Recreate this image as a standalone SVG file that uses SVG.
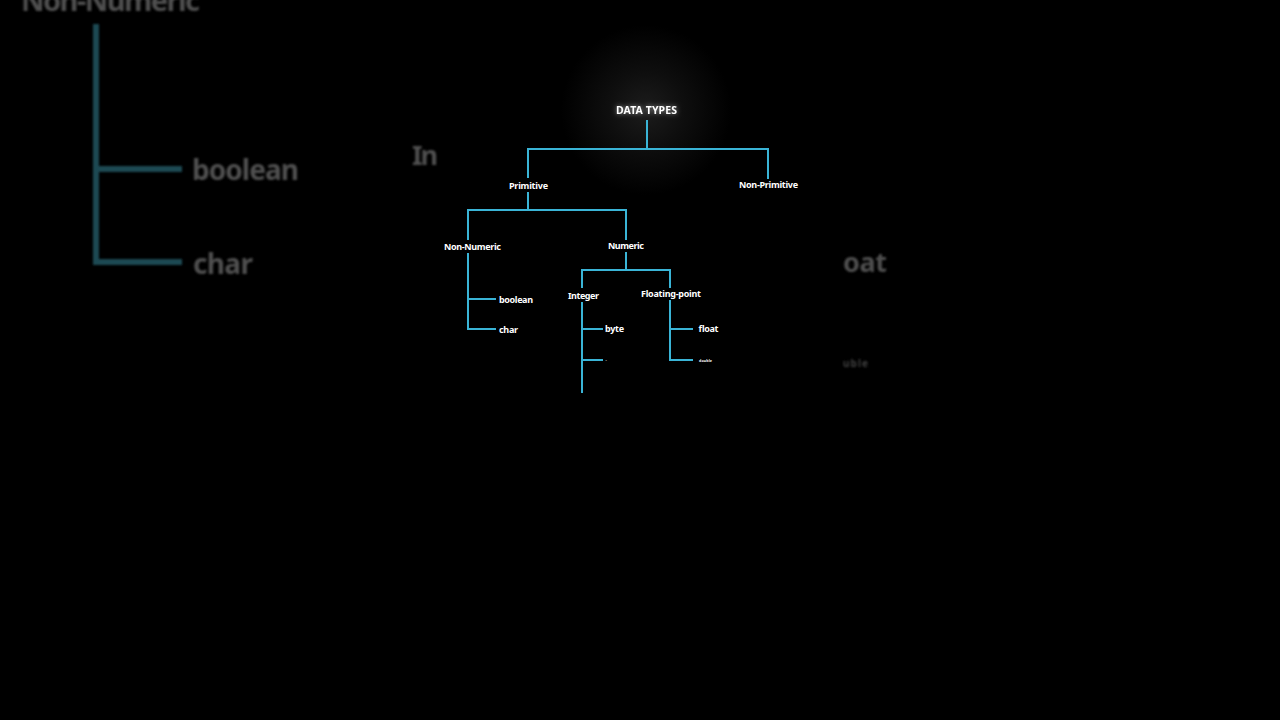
<svg xmlns="http://www.w3.org/2000/svg" width="1280" height="720" viewBox="0 0 1280 720">
  <defs>
    <radialGradient id="halo" cx="646" cy="110" r="85" gradientUnits="userSpaceOnUse">
      <stop offset="0" stop-color="#1c1c1c"/>
      <stop offset="0.45" stop-color="#0e0e0e"/>
      <stop offset="1" stop-color="#000000"/>
    </radialGradient>
    <filter id="soft" x="-20%" y="-20%" width="140%" height="140%">
      <feGaussianBlur stdDeviation="1.2"/>
    </filter>
    <filter id="glow" x="-50%" y="-100%" width="200%" height="300%">
      <feGaussianBlur in="SourceAlpha" stdDeviation="2.5" result="b"/>
      <feFlood flood-color="#ffffff" flood-opacity="0.55"/>
      <feComposite in2="b" operator="in" result="g"/>
      <feMerge><feMergeNode in="g"/><feMergeNode in="SourceGraphic"/></feMerge>
    </filter>
  </defs>
  <style>
    .lbl { font-family: "Noto Sans", "Open Sans", "Liberation Sans", sans-serif; font-weight: bold; fill: #ffffff; }
    .ghost { font-family: "Noto Sans", "Open Sans", "Liberation Sans", sans-serif; font-weight: bold; fill: #4f4f4f; }
    .edge { stroke: #3ab4d6; stroke-width: 2; fill: none; stroke-linecap: square; stroke-linejoin: miter; }
    .gedge { stroke: #1d4852; stroke-width: 6; fill: none; }
  </style>
  <rect x="0" y="0" width="1280" height="720" fill="#000000"/>
  <rect x="556" y="20" width="180" height="180" fill="url(#halo)"/>

  <g id="ghost" filter="url(#soft)">
    <path class="gedge" d="M96 24 V262 M96 169 H182 M93 262 H182"/>
    <text class="ghost" x="21" y="11" font-size="29" textLength="179">Non-Numeric</text>
    <text class="ghost" x="192" y="180" font-size="28" textLength="107">boolean</text>
    <text class="ghost" x="193" y="274" font-size="28" textLength="60">char</text>
    <text class="ghost" x="412" y="165" font-size="27" textLength="26">In</text>
    <text class="ghost" x="843" y="272" font-size="27" textLength="44">oat</text>
    <text class="ghost" x="843" y="367" font-size="10" textLength="25" opacity="0.8">uble</text>
  </g>

  <g id="connectors">
    <path class="edge" d="M647 121 V149 M528 149 H768 M528 149 V177 M768 149 V178"/>
    <path class="edge" d="M528 193 V210 M468 210 H626 M468 210 V239 M626 210 V239"/>
    <path class="edge" d="M468 254 V329 M468 299 H495 M468 329 H495"/>
    <path class="edge" d="M626 253 V270 M582 270 H670 M582 270 V287 M670 270 V287"/>
    <path class="edge" d="M582 303 V392 M582 329 H602 M582 360 H602"/>
    <path class="edge" d="M670 301 V360 M670 329 H692 M670 360 H692"/>
  </g>

  <g id="n-datatypes"><text class="lbl" x="646.5" y="114" font-size="10.5" text-anchor="middle" textLength="61" filter="url(#glow)">DATA TYPES</text></g>
  <g id="n-primitive"><text class="lbl" x="528.5" y="188.5" font-size="9" text-anchor="middle" textLength="39">Primitive</text></g>
  <g id="n-nonprimitive"><text class="lbl" x="768.5" y="188" font-size="9" text-anchor="middle" textLength="59">Non-Primitive</text></g>
  <g id="n-nonnumeric"><text class="lbl" x="472.5" y="250" font-size="9" text-anchor="middle" textLength="57">Non-Numeric</text></g>
  <g id="n-numeric"><text class="lbl" x="626" y="249" font-size="9" text-anchor="middle" textLength="36">Numeric</text></g>
  <g id="n-boolean"><text class="lbl" x="499" y="303" font-size="9" textLength="34">boolean</text></g>
  <g id="n-char"><text class="lbl" x="499" y="332.5" font-size="9" textLength="19">char</text></g>
  <g id="n-integer"><text class="lbl" x="583.5" y="298.5" font-size="9" text-anchor="middle" textLength="31">Integer</text></g>
  <g id="n-floating"><text class="lbl" x="671" y="297" font-size="9" text-anchor="middle" textLength="60">Floating-point</text></g>
  <g id="n-byte"><text class="lbl" x="605" y="332" font-size="9" textLength="19">byte</text></g>
  <g id="n-short"><text class="lbl" x="605.5" y="361" font-size="4">-</text></g>
  <g id="n-float"><text class="lbl" x="698" y="332" font-size="9" textLength="20">float</text></g>
  <g id="n-double"><text class="lbl" x="699" y="362" font-size="3.6" textLength="13">double</text></g>
</svg>
